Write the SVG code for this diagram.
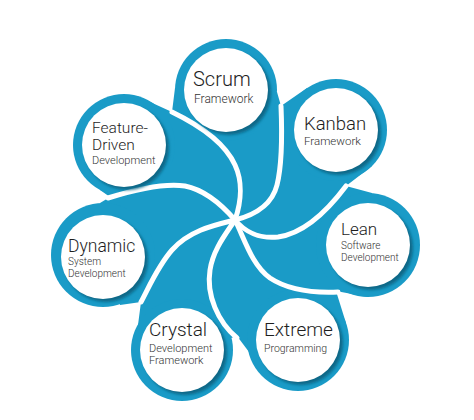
<svg xmlns="http://www.w3.org/2000/svg" width="474" height="420" viewBox="0 0 474 420">
<defs>
<filter id="sh" x="-20%" y="-20%" width="140%" height="140%"><feGaussianBlur stdDeviation="1.6"/></filter>
</defs>
<style>
.blue{fill:#1a9bc7}
.shadow{fill:#0b6787;filter:url(#sh)}
.disc{fill:#ffffff}
.arm{fill:none;stroke:#ffffff;stroke-width:5;stroke-linecap:round;stroke-linejoin:round}
.t{font-family:Roboto,"Liberation Sans",sans-serif;font-weight:300;fill:#1e1e1e}
.s{font-family:Roboto,"Liberation Sans",sans-serif;font-weight:300;fill:#333333}
</style>
<rect width="474" height="420" fill="#ffffff"/>
<g id="hub">
<polygon class="blue" points="172,112 175,88 277,92 281,106 307,88 372,166 346,186 372,193 368,297 336,291 346,323 249,352 237,336 231,338 138,325 141,302 120,305 100,203 110,197 100,190 137,96"/>
</g>
<g id="petals">
<circle class="blue" cx="226" cy="90" r="51"/>
<circle class="blue" cx="336" cy="130" r="51"/>
<circle class="blue" cx="368" cy="245" r="52"/>
<circle class="blue" cx="298" cy="340" r="51"/>
<circle class="blue" cx="182" cy="350" r="51"/>
<circle class="blue" cx="103" cy="255" r="52"/>
<circle class="blue" cx="124" cy="145" r="51"/>
</g>
<g id="connectors">
<path class="arm" d="M235,220 C242,200 242,180 235,165 C226,145 205,128 172,112"/>
<path class="arm" d="M235,220 C255,215 272,205 277,185 C282,165 282,130 281,106"/>
<path class="arm" d="M235,220 C245,232 260,239 278,237 C300,234 322,218 346,186"/>
<path class="arm" d="M235,220 C245,240 252,265 270,278 C288,290 315,293 338,292"/>
<path class="arm" d="M235,220 C225,235 213,250 210,270 C206,295 218,322 237,338"/>
<path class="arm" d="M235,220 C215,225 190,230 172,250 C158,266 150,285 141,302"/>
<path class="arm" d="M235,220 C222,205 205,190 185,186 C165,183 140,188 108,198"/>
</g>
<g id="scrum">
<circle class="shadow" cx="229" cy="93" r="42"/>
<circle class="disc" cx="226" cy="90" r="42"/>
<text class="t" x="193" y="86" font-size="20">Scrum</text>
<text class="s" x="194" y="103" font-size="12">Framework</text>
</g>
<g id="kanban">
<circle class="shadow" cx="339" cy="133" r="42"/>
<circle class="disc" cx="336" cy="130" r="42"/>
<text class="t" x="304" y="130" font-size="18.5">Kanban</text>
<text class="s" x="304" y="145" font-size="11.5">Framework</text>
</g>
<g id="lean">
<circle class="shadow" cx="371" cy="248" r="42"/>
<circle class="disc" cx="368" cy="245" r="42"/>
<text class="t" x="341" y="235" font-size="17">Lean</text>
<text class="s" x="341" y="249" font-size="10">Software</text>
<text class="s" x="341" y="261" font-size="10">Development</text>
</g>
<g id="extreme">
<circle class="shadow" cx="301" cy="343" r="42"/>
<circle class="disc" cx="298" cy="340" r="42"/>
<text class="t" x="264" y="336" font-size="19">Extreme</text>
<text class="s" x="264" y="352" font-size="10.5">Programming</text>
</g>
<g id="crystal">
<circle class="shadow" cx="185" cy="353" r="42"/>
<circle class="disc" cx="182" cy="350" r="42"/>
<text class="t" x="149" y="336" font-size="19">Crystal</text>
<text class="s" x="149" y="352" font-size="11">Development</text>
<text class="s" x="149" y="364" font-size="11">Framework</text>
</g>
<g id="dynamic">
<circle class="shadow" cx="106" cy="260" r="42"/>
<circle class="disc" cx="103" cy="257" r="42"/>
<text class="t" x="68" y="252" font-size="17.5">Dynamic</text>
<text class="s" x="68" y="265" font-size="10">System</text>
<text class="s" x="68" y="277" font-size="10">Development</text>
</g>
<g id="feature-driven">
<circle class="shadow" cx="127" cy="148" r="42"/>
<circle class="disc" cx="124" cy="145" r="42"/>
<text class="t" x="92" y="133" font-size="15.5">Feature-</text>
<text class="t" x="92" y="150" font-size="15.5">Driven</text>
<text class="s" x="92" y="164" font-size="11">Development</text>
</g>
</svg>
